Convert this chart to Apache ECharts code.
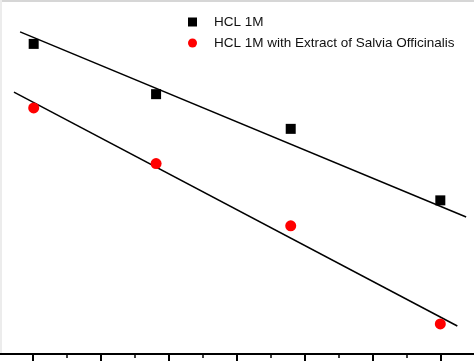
<!DOCTYPE html>
<html><head><meta charset="utf-8">
<script src="https://cdn.jsdelivr.net/npm/echarts@6/dist/echarts.min.js"></script>
<style>html,body{margin:0;padding:0;background:#fff;overflow:hidden;width:474px;height:361px;position:relative}#c{width:544px;height:361px;position:absolute;left:-35px;top:0}</style>
</head><body><div id="c"></div>
<script>
// x positions (axis units) of measurements
const xValues = [0.01, 1.81, 3.79, 5.99];
// series values (axis units)
const hclValues = [8.76, 7.34, 6.36, 4.34];
const salviaValues = [6.95, 5.38, 3.62, 0.85];
// fitted straight lines (end points)
const hclFitX = [-0.19, 6.37];
const hclFitY = [9.10, 3.87];
const salviaFitX = [-0.28, 6.24];
const salviaFitY = [7.40, 0.79];
const seriesNames = ['HCL 1M', 'HCL 1M with Extract of Salvia Officinalis'];

const pairs = (xs, ys) => xs.map((x, i) => [x, ys[i]]);

const chart = echarts.init(document.getElementById('c'), null, {renderer: 'canvas'});
chart.setOption({
  animation: false,
  backgroundColor: '#fff',
  grid: {left: 0, right: 0, top: 0, bottom: 7, containLabel: false},
  xAxis: {
    type: 'value', min: -1, max: 7, interval: 1,
    axisLine: {show: true, lineStyle: {color: '#000', width: 2}},
    axisTick: {show: true, inside: false, length: 8, lineStyle: {color: '#000', width: 2}},
    minorTick: {show: true, splitNumber: 2, length: 4, lineStyle: {color: '#000', width: 1.5}},
    axisLabel: {show: false},
    splitLine: {show: false}
  },
  yAxis: {
    type: 'value', min: 0, max: 10, show: false, splitLine: {show: false}
  },
  legend: {
    orient: 'vertical', left: 218, top: 10, itemGap: 7,
    itemWidth: 9, itemHeight: 9,
    data: [{name: seriesNames[0], icon: 'rect'}, {name: seriesNames[1], icon: 'circle'}],
    textStyle: {fontFamily: 'Liberation Sans, Arial, sans-serif', fontSize: 13.5, color: '#111', padding: [0, 0, 0, 12]}
  },
  series: [
    {type: 'line', data: pairs(hclFitX, hclFitY), symbol: 'none', silent: true,
     lineStyle: {color: '#000', width: 1.5}, z: 1},
    {type: 'line', data: pairs(salviaFitX, salviaFitY), symbol: 'none', silent: true,
     lineStyle: {color: '#000', width: 1.5}, z: 1},
    {name: seriesNames[0], type: 'scatter', data: pairs(xValues, hclValues), symbol: 'rect',
     symbolSize: 10, itemStyle: {color: '#000', opacity: 1}, z: 3},
    {name: seriesNames[1], type: 'scatter', data: pairs(xValues, salviaValues), symbol: 'circle',
     symbolSize: 11, itemStyle: {color: '#f00', opacity: 1}, z: 3}
  ],
  graphic: [
    {type: 'rect', left: 35, top: 0, shape: {width: 474, height: 2}, style: {fill: '#d6d6d6'}, z: 10},
    {type: 'rect', left: 35, top: 0, shape: {width: 2, height: 353}, style: {fill: '#ececec'}, z: 10}
  ]
});
</script></body></html>
